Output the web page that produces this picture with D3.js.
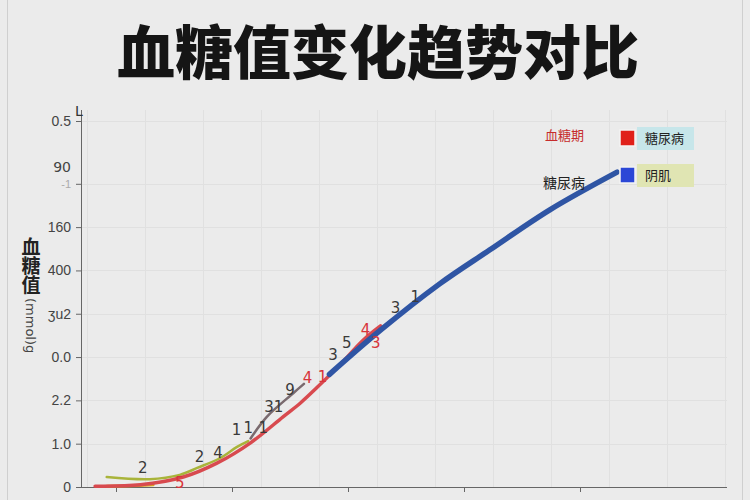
<!DOCTYPE html>
<html><head><meta charset="utf-8">
<script src="https://cdn.jsdelivr.net/npm/d3@7/dist/d3.min.js"></script>
<style>
html,body{margin:0;padding:0;background:#ebebeb;}
svg{display:block;font-family:"DejaVu Sans","Noto Sans CJK SC",sans-serif;}
</style></head>
<body><svg id="c" width="750" height="500"></svg>
<script>
// ---- data ----
const title = "血糖值变化趋势对比";
const yTickValues = [0, 1, 2, 3, 4, 5, 6, 7, 8.45];
const yTickLabels = ["0", "1.0", "2.2", "0.0", "ʒu2", "400", "160", "-1", "0.5"];
const xTickValues = [0, 1, 2, 3, 4];
const redX  = [-0.18, 0.21, 0.58, 0.87, 1.16, 1.44, 1.59, 1.73, 1.93, 2.13, 2.28];
const redY  = [0.02, 0.05, 0.23, 0.55, 1.02, 1.62, 1.94, 2.29, 2.82, 3.39, 3.72];
const blueX = [1.84, 2.28, 2.79, 3.22, 3.74, 4.32];
const blueY = [2.60, 3.62, 4.69, 5.47, 6.40, 7.27];
const oliveX = [-0.08, 0.29, 0.55, 0.70, 0.90, 1.04, 1.14];
const oliveY = [0.23, 0.18, 0.28, 0.44, 0.67, 0.92, 1.06];
const orangeX = [-0.08, 0.12, 0.32];
const orangeY = [0.02, 0.03, 0.05];
const grayX = [1.16, 1.30, 1.53, 1.62];
const grayY = [1.12, 1.62, 2.17, 2.38];
const noteText = ["2", "2", "4", "1", "1", "1", "31", "9", "4", "1", "3", "5", "4", "3", "3", "1", "5"];
const noteX = [0.23, 0.72, 0.88, 1.04, 1.14, 1.27, 1.36, 1.50, 1.65, 1.78, 1.87, 1.99, 2.15, 2.24, 2.41, 2.58, 0.55];
const noteY = [0.33, 0.57, 0.67, 1.20, 1.24, 1.24, 1.73, 2.12, 2.40, 2.42, 2.93, 3.20, 3.50, 3.20, 4.02, 4.27, -0.02];
const noteRed = [0, 0, 0, 0, 0, 0, 0, 0, 1, 1, 0, 0, 1, 1, 0, 0, 1];
const legendNames = ["糖尿病", "阴肌"];
const sideLabels = ["血糖期", "糖尿病"];
const yTitle = "血糖值";
const yUnit = "(mmol)g";

// ---- drawing ----
const svg = d3.select("#c");
const x = d3.scaleLinear().domain([0, 4]).range([116, 580]);
const y = d3.scaleLinear().domain([0, 8.45]).range([487, 121]);

// frame lines
svg.append("line").attr("x1", 7.5).attr("x2", 7.5).attr("y1", 0).attr("y2", 500).attr("stroke", "#cfcfcf");
svg.append("line").attr("x1", 742.5).attr("x2", 742.5).attr("y1", 0).attr("y2", 500).attr("stroke", "#cfcfcf");

// grid
const gx = d3.range(-0.25, 5.3, 0.5);
svg.append("g").selectAll("line").data(gx).join("line")
  .attr("x1", d => Math.round(x(d)) + 0.5).attr("x2", d => Math.round(x(d)) + 0.5)
  .attr("y1", 110).attr("y2", 487).attr("stroke", "#e0e0e0");
svg.append("g").selectAll("line").data(yTickValues.slice(1)).join("line")
  .attr("x1", 81).attr("x2", 727)
  .attr("y1", d => Math.round(y(d)) + 0.5).attr("y2", d => Math.round(y(d)) + 0.5)
  .attr("stroke", "#e0e0e0");

// title
svg.append("text").attr("x", 378).attr("y", 74).attr("text-anchor", "middle")
  .attr("font-family", "'Noto Sans CJK SC',sans-serif").attr("font-weight", 900)
  .attr("font-size", 58).attr("fill", "#151515").text(title);

// y axis
const yAxis = d3.axisLeft(y).tickValues(yTickValues).tickSize(5)
  .tickFormat((d, i) => yTickLabels[i]);
const gy = svg.append("g").attr("transform", "translate(81,0)").call(yAxis);
gy.select(".domain").attr("d", "M0.5,110V487.5").attr("stroke", "#666");
gy.selectAll(".tick line").attr("stroke", "#666");
gy.selectAll(".tick text").attr("font-size", 14).attr("fill", "#444").attr("x", -10);
gy.selectAll(".tick text").filter((d, i) => i === 7).attr("fill", "#aaa").attr("font-size", 11);
svg.append("text").attr("x", 71).attr("y", 172).attr("text-anchor", "end")
  .attr("font-size", 14).attr("fill", "#444").text("90");
svg.append("text").attr("x", 75).attr("y", 116).attr("text-anchor", "start")
  .attr("font-size", 14).attr("fill", "#333").text("L");

// x axis
const xAxis = d3.axisBottom(x).tickValues(xTickValues).tickSize(5).tickFormat("");
const gxa = svg.append("g").attr("transform", "translate(0,487)").call(xAxis);
gxa.select(".domain").attr("d", "M81,0.5H727").attr("stroke", "#666");
gxa.selectAll(".tick line").attr("stroke", "#666");

// y title (vertical)
svg.append("text").attr("x", 31).attr("y", 237)
  .style("writing-mode", "vertical-rl").style("text-orientation", "upright")
  .attr("font-family", "'Noto Sans CJK SC',sans-serif").attr("font-weight", 700)
  .attr("font-size", 19).attr("fill", "#222").text(yTitle);
svg.append("text").attr("transform", "translate(26,298) rotate(90)")
  .attr("font-size", 13).attr("fill", "#444").text(yUnit);

// lines
const line = d3.line().curve(d3.curveCatmullRom.alpha(0.5)).x(d => x(d[0])).y(d => y(d[1]));
function series(xs, ys, color, w) {
  svg.append("path").datum(xs.map((v, i) => [v, ys[i]]))
    .attr("d", line).attr("fill", "none").attr("stroke", color)
    .attr("stroke-width", w).attr("stroke-linecap", "round");
}
series(orangeX, orangeY, "#d9a41e", 3);
series(oliveX, oliveY, "#a9b43a", 2.5);
series(redX, redY, "#d84a4f", 3.5);
series(grayX, grayY, "#7a6a6e", 2.5);
series(blueX, blueY, "#2f55a4", 5.5);

// point notes
svg.append("g").selectAll("text").data(noteText).join("text")
  .attr("x", (d, i) => x(noteX[i])).attr("y", (d, i) => y(noteY[i]))
  .attr("text-anchor", "middle").attr("font-size", 15)
  .attr("fill", (d, i) => noteRed[i] ? "#d8343a" : "#3a3a3a").text(d => d);

// side labels
svg.append("text").attr("x", 545).attr("y", 140).attr("font-family", "'Noto Sans CJK SC',sans-serif")
  .attr("font-size", 13).attr("fill", "#c62c2c").text(sideLabels[0]);
svg.append("text").attr("x", 543).attr("y", 188).attr("font-family", "'Noto Sans CJK SC',sans-serif")
  .attr("font-size", 14).attr("fill", "#222").text(sideLabels[1]);

// legend
const legColors = ["#e0201a", "#2b47d6"];
const legBg = ["#c7e6ea", "#e0e5b3"];
const legY = [127, 164];
const lg = svg.append("g");
legendNames.forEach((n, i) => {
  lg.append("rect").attr("x", 637).attr("y", legY[i]).attr("width", 57).attr("height", 23).attr("fill", legBg[i]);
  lg.append("rect").attr("x", 620).attr("y", legY[i] + 3).attr("width", 15).attr("height", 16)
    .attr("fill", legColors[i]).attr("stroke", "#f4f4f4").attr("stroke-width", 1.5);
  lg.append("text").attr("x", 645).attr("y", legY[i] + 16).attr("font-family", "'Noto Sans CJK SC',sans-serif")
    .attr("font-size", 13).attr("fill", "#222").text(n);
});
</script></body></html>
